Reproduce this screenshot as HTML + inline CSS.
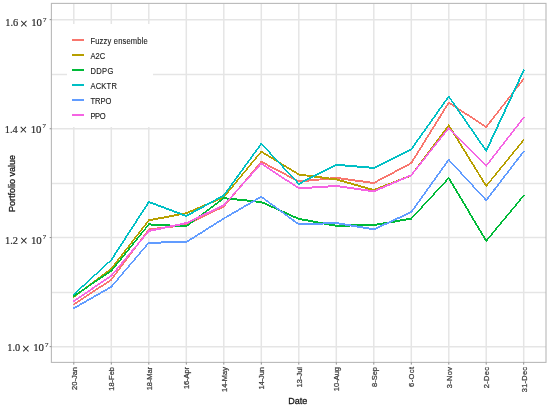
<!DOCTYPE html><html><head><meta charset="utf-8"><style>html,body{margin:0;padding:0;background:#fff;width:550px;height:410px;overflow:hidden}svg{display:block}</style></head><body>
<svg width="550" height="410" viewBox="0 0 550 410">
<rect x="0" y="0" width="550" height="410" fill="#fff"/>
<line x1="51.4" x2="546.0" y1="74.6" y2="74.6" stroke="#e5e5e5" stroke-width="1.5"/>
<line x1="51.4" x2="546.0" y1="183.5" y2="183.5" stroke="#e5e5e5" stroke-width="1.5"/>
<line x1="51.4" x2="546.0" y1="292.5" y2="292.5" stroke="#e5e5e5" stroke-width="1.5"/>
<line x1="51.4" x2="546.0" y1="19.65" y2="19.65" stroke="#e5e5e5" stroke-width="1.5"/>
<line x1="51.4" x2="546.0" y1="128.75" y2="128.75" stroke="#e5e5e5" stroke-width="1.5"/>
<line x1="51.4" x2="546.0" y1="237.55" y2="237.55" stroke="#e5e5e5" stroke-width="1.5"/>
<line x1="51.4" x2="546.0" y1="346.65" y2="346.65" stroke="#e5e5e5" stroke-width="1.5"/>
<line x1="73.8" x2="73.8" y1="3.4" y2="362.4" stroke="#e5e5e5" stroke-width="1.5"/>
<line x1="111.3" x2="111.3" y1="3.4" y2="362.4" stroke="#e5e5e5" stroke-width="1.5"/>
<line x1="148.8" x2="148.8" y1="3.4" y2="362.4" stroke="#e5e5e5" stroke-width="1.5"/>
<line x1="186.3" x2="186.3" y1="3.4" y2="362.4" stroke="#e5e5e5" stroke-width="1.5"/>
<line x1="223.8" x2="223.8" y1="3.4" y2="362.4" stroke="#e5e5e5" stroke-width="1.5"/>
<line x1="261.3" x2="261.3" y1="3.4" y2="362.4" stroke="#e5e5e5" stroke-width="1.5"/>
<line x1="298.8" x2="298.8" y1="3.4" y2="362.4" stroke="#e5e5e5" stroke-width="1.5"/>
<line x1="336.3" x2="336.3" y1="3.4" y2="362.4" stroke="#e5e5e5" stroke-width="1.5"/>
<line x1="373.8" x2="373.8" y1="3.4" y2="362.4" stroke="#e5e5e5" stroke-width="1.5"/>
<line x1="411.3" x2="411.3" y1="3.4" y2="362.4" stroke="#e5e5e5" stroke-width="1.5"/>
<line x1="448.8" x2="448.8" y1="3.4" y2="362.4" stroke="#e5e5e5" stroke-width="1.5"/>
<line x1="486.2" x2="486.2" y1="3.4" y2="362.4" stroke="#e5e5e5" stroke-width="1.5"/>
<line x1="523.7" x2="523.7" y1="3.4" y2="362.4" stroke="#e5e5e5" stroke-width="1.5"/>
<g stroke="#F8766D" stroke-linecap="round" shape-rendering="crispEdges"><line x1="73.85" y1="304.40" x2="111.34" y2="279.70" stroke-width="1.67"/><line x1="111.34" y1="279.70" x2="148.83" y2="229.50" stroke-width="1.60"/><line x1="148.83" y1="229.50" x2="186.32" y2="224.80" stroke-width="1.98"/><line x1="186.32" y1="224.80" x2="223.81" y2="206.40" stroke-width="1.80"/><line x1="223.81" y1="206.40" x2="261.30" y2="161.70" stroke-width="1.53"/><line x1="261.30" y1="161.70" x2="298.79" y2="181.50" stroke-width="1.77"/><line x1="298.79" y1="181.50" x2="336.28" y2="177.90" stroke-width="1.99"/><line x1="336.28" y1="177.90" x2="373.77" y2="183.00" stroke-width="1.98"/><line x1="373.77" y1="183.00" x2="411.26" y2="163.10" stroke-width="1.77"/><line x1="411.26" y1="163.10" x2="448.75" y2="102.60" stroke-width="1.70"/><line x1="448.75" y1="102.60" x2="486.24" y2="127.00" stroke-width="1.68"/><line x1="486.24" y1="127.00" x2="523.73" y2="78.90" stroke-width="1.58"/></g>
<g stroke="#B79F00" stroke-linecap="round" shape-rendering="crispEdges"><line x1="73.85" y1="297.00" x2="111.34" y2="268.70" stroke-width="1.60"/><line x1="111.34" y1="268.70" x2="148.83" y2="220.30" stroke-width="1.58"/><line x1="148.83" y1="220.30" x2="186.32" y2="213.20" stroke-width="1.97"/><line x1="186.32" y1="213.20" x2="223.81" y2="197.10" stroke-width="1.84"/><line x1="223.81" y1="197.10" x2="261.30" y2="151.60" stroke-width="1.54"/><line x1="261.30" y1="151.60" x2="298.79" y2="174.50" stroke-width="1.71"/><line x1="298.79" y1="174.50" x2="336.28" y2="179.40" stroke-width="1.98"/><line x1="336.28" y1="179.40" x2="373.77" y2="190.00" stroke-width="1.92"/><line x1="373.77" y1="190.00" x2="411.26" y2="175.50" stroke-width="1.87"/><line x1="411.26" y1="175.50" x2="448.75" y2="125.30" stroke-width="1.60"/><line x1="448.75" y1="125.30" x2="486.24" y2="186.00" stroke-width="1.70"/><line x1="486.24" y1="186.00" x2="523.73" y2="139.90" stroke-width="1.55"/></g>
<g stroke="#00BA38" stroke-linecap="round" shape-rendering="crispEdges"><line x1="73.85" y1="296.00" x2="111.34" y2="270.90" stroke-width="1.66"/><line x1="111.34" y1="270.90" x2="148.83" y2="224.40" stroke-width="1.56"/><line x1="148.83" y1="224.40" x2="186.32" y2="226.40" stroke-width="2.00"/><line x1="186.32" y1="226.40" x2="223.81" y2="198.20" stroke-width="1.60"/><line x1="223.81" y1="198.20" x2="261.30" y2="202.00" stroke-width="1.99"/><line x1="261.30" y1="202.00" x2="298.79" y2="218.90" stroke-width="1.82"/><line x1="298.79" y1="218.90" x2="336.28" y2="225.80" stroke-width="1.97"/><line x1="336.28" y1="225.80" x2="373.77" y2="225.00" stroke-width="2.00"/><line x1="373.77" y1="225.00" x2="411.26" y2="218.70" stroke-width="1.97"/><line x1="411.26" y1="218.70" x2="448.75" y2="178.00" stroke-width="1.47"/><line x1="448.75" y1="178.00" x2="486.24" y2="240.90" stroke-width="1.72"/><line x1="486.24" y1="240.90" x2="523.73" y2="195.60" stroke-width="1.54"/></g>
<g stroke="#00BFC4" stroke-linecap="round" shape-rendering="crispEdges"><line x1="73.85" y1="294.50" x2="111.34" y2="259.90" stroke-width="1.47"/><line x1="111.34" y1="259.90" x2="148.83" y2="202.00" stroke-width="1.68"/><line x1="148.83" y1="202.00" x2="186.32" y2="216.00" stroke-width="1.87"/><line x1="186.32" y1="216.00" x2="223.81" y2="195.40" stroke-width="1.75"/><line x1="223.81" y1="195.40" x2="261.30" y2="143.70" stroke-width="1.62"/><line x1="261.30" y1="143.70" x2="298.79" y2="183.90" stroke-width="1.46"/><line x1="298.79" y1="183.90" x2="336.28" y2="164.80" stroke-width="1.78"/><line x1="336.28" y1="164.80" x2="373.77" y2="167.90" stroke-width="1.99"/><line x1="373.77" y1="167.90" x2="411.26" y2="149.30" stroke-width="1.79"/><line x1="411.26" y1="149.30" x2="448.75" y2="96.50" stroke-width="1.63"/><line x1="448.75" y1="96.50" x2="486.24" y2="150.80" stroke-width="1.65"/><line x1="486.24" y1="150.80" x2="523.73" y2="70.40" stroke-width="1.81"/></g>
<g stroke="#619CFF" stroke-linecap="round" shape-rendering="crispEdges"><line x1="73.85" y1="308.30" x2="111.34" y2="286.80" stroke-width="1.73"/><line x1="111.34" y1="286.80" x2="148.83" y2="242.70" stroke-width="1.52"/><line x1="148.83" y1="242.70" x2="186.32" y2="242.10" stroke-width="2.00"/><line x1="186.32" y1="242.10" x2="223.81" y2="218.50" stroke-width="1.69"/><line x1="223.81" y1="218.50" x2="261.30" y2="196.70" stroke-width="1.73"/><line x1="261.30" y1="196.70" x2="298.79" y2="224.40" stroke-width="1.61"/><line x1="298.79" y1="224.40" x2="336.28" y2="223.00" stroke-width="2.00"/><line x1="336.28" y1="223.00" x2="373.77" y2="229.40" stroke-width="1.97"/><line x1="373.77" y1="229.40" x2="411.26" y2="212.10" stroke-width="1.82"/><line x1="411.26" y1="212.10" x2="448.75" y2="159.70" stroke-width="1.63"/><line x1="448.75" y1="159.70" x2="486.24" y2="200.30" stroke-width="1.47"/><line x1="486.24" y1="200.30" x2="523.73" y2="151.40" stroke-width="1.59"/></g>
<g stroke="#F564E3" stroke-linecap="round" shape-rendering="crispEdges"><line x1="73.85" y1="301.10" x2="111.34" y2="275.80" stroke-width="1.66"/><line x1="111.34" y1="275.80" x2="148.83" y2="231.00" stroke-width="1.53"/><line x1="148.83" y1="231.00" x2="186.32" y2="223.10" stroke-width="1.96"/><line x1="186.32" y1="223.10" x2="223.81" y2="205.30" stroke-width="1.81"/><line x1="223.81" y1="205.30" x2="261.30" y2="163.50" stroke-width="1.49"/><line x1="261.30" y1="163.50" x2="298.79" y2="188.30" stroke-width="1.67"/><line x1="298.79" y1="188.30" x2="336.28" y2="186.00" stroke-width="2.00"/><line x1="336.28" y1="186.00" x2="373.77" y2="191.30" stroke-width="1.98"/><line x1="373.77" y1="191.30" x2="411.26" y2="175.20" stroke-width="1.84"/><line x1="411.26" y1="175.20" x2="448.75" y2="128.00" stroke-width="1.57"/><line x1="448.75" y1="128.00" x2="486.24" y2="165.80" stroke-width="1.42"/><line x1="486.24" y1="165.80" x2="523.73" y2="117.60" stroke-width="1.58"/></g>
<rect x="67" y="24" width="86" height="103" fill="#fff"/>
<line x1="72" x2="84.4" y1="40.0" y2="40.0" stroke="#F8766D" stroke-width="2" shape-rendering="crispEdges"/>
<text transform="translate(90.4,44.00) scale(0.9,1)" textLength="63.78" lengthAdjust="spacing" font-family='"Liberation Sans", sans-serif' font-size="8.4" fill="#1a1a1a" stroke="#1a1a1a" stroke-width="0.12">Fuzzy ensemble</text>
<line x1="72" x2="84.4" y1="55.0" y2="55.0" stroke="#B79F00" stroke-width="2" shape-rendering="crispEdges"/>
<text transform="translate(90.4,59.00) scale(0.9,1)" textLength="16.48" lengthAdjust="spacing" font-family='"Liberation Sans", sans-serif' font-size="8.4" fill="#1a1a1a" stroke="#1a1a1a" stroke-width="0.12">A2C</text>
<line x1="72" x2="84.4" y1="70.0" y2="70.0" stroke="#00BA38" stroke-width="2" shape-rendering="crispEdges"/>
<text transform="translate(90.4,74.00) scale(0.9,1)" textLength="25.56" lengthAdjust="spacing" font-family='"Liberation Sans", sans-serif' font-size="8.4" fill="#1a1a1a" stroke="#1a1a1a" stroke-width="0.12">DDPG</text>
<line x1="72" x2="84.4" y1="84.8" y2="84.8" stroke="#00BFC4" stroke-width="2" shape-rendering="crispEdges"/>
<text transform="translate(90.4,88.80) scale(0.9,1)" textLength="29.44" lengthAdjust="spacing" font-family='"Liberation Sans", sans-serif' font-size="8.4" fill="#1a1a1a" stroke="#1a1a1a" stroke-width="0.12">ACKTR</text>
<line x1="72" x2="84.4" y1="100.0" y2="100.0" stroke="#619CFF" stroke-width="2" shape-rendering="crispEdges"/>
<text transform="translate(90.4,104.00) scale(0.9,1)" textLength="23.22" lengthAdjust="spacing" font-family='"Liberation Sans", sans-serif' font-size="8.4" fill="#1a1a1a" stroke="#1a1a1a" stroke-width="0.12">TRPO</text>
<line x1="72" x2="84.4" y1="114.8" y2="114.8" stroke="#F564E3" stroke-width="2" shape-rendering="crispEdges"/>
<text transform="translate(90.4,118.80) scale(0.9,1)" textLength="16.89" lengthAdjust="spacing" font-family='"Liberation Sans", sans-serif' font-size="8.4" fill="#1a1a1a" stroke="#1a1a1a" stroke-width="0.12">PPO</text>
<rect x="51.4" y="3.4" width="494.6" height="359.0" fill="none" stroke="#b9b9b9" stroke-width="1.1"/>
<line x1="49.6" x2="51.4" y1="19.65" y2="19.65" stroke="#8f8f8f" stroke-width="1"/>
<line x1="49.6" x2="51.4" y1="128.75" y2="128.75" stroke="#8f8f8f" stroke-width="1"/>
<line x1="49.6" x2="51.4" y1="237.55" y2="237.55" stroke="#8f8f8f" stroke-width="1"/>
<line x1="49.6" x2="51.4" y1="346.65" y2="346.65" stroke="#8f8f8f" stroke-width="1"/>
<line x1="73.8" x2="73.8" y1="362.4" y2="364.59999999999997" stroke="#8f8f8f" stroke-width="1"/>
<line x1="111.3" x2="111.3" y1="362.4" y2="364.59999999999997" stroke="#8f8f8f" stroke-width="1"/>
<line x1="148.8" x2="148.8" y1="362.4" y2="364.59999999999997" stroke="#8f8f8f" stroke-width="1"/>
<line x1="186.3" x2="186.3" y1="362.4" y2="364.59999999999997" stroke="#8f8f8f" stroke-width="1"/>
<line x1="223.8" x2="223.8" y1="362.4" y2="364.59999999999997" stroke="#8f8f8f" stroke-width="1"/>
<line x1="261.3" x2="261.3" y1="362.4" y2="364.59999999999997" stroke="#8f8f8f" stroke-width="1"/>
<line x1="298.8" x2="298.8" y1="362.4" y2="364.59999999999997" stroke="#8f8f8f" stroke-width="1"/>
<line x1="336.3" x2="336.3" y1="362.4" y2="364.59999999999997" stroke="#8f8f8f" stroke-width="1"/>
<line x1="373.8" x2="373.8" y1="362.4" y2="364.59999999999997" stroke="#8f8f8f" stroke-width="1"/>
<line x1="411.3" x2="411.3" y1="362.4" y2="364.59999999999997" stroke="#8f8f8f" stroke-width="1"/>
<line x1="448.8" x2="448.8" y1="362.4" y2="364.59999999999997" stroke="#8f8f8f" stroke-width="1"/>
<line x1="486.2" x2="486.2" y1="362.4" y2="364.59999999999997" stroke="#8f8f8f" stroke-width="1"/>
<line x1="523.7" x2="523.7" y1="362.4" y2="364.59999999999997" stroke="#8f8f8f" stroke-width="1"/>
<text transform="translate(5.23,26.0) scale(1.07,1)" font-size="9.7" font-family='"Liberation Serif", serif' fill="#2b2b2b" stroke="#2b2b2b" stroke-width="0.18">1.6</text>
<text x="19.60" y="26.60" font-size="10.4" font-family='"DejaVu Sans", sans-serif' fill="#262626">×</text>
<text transform="translate(31.13,26.0) scale(1.12,1)" font-size="9.7" font-family='"Liberation Serif", serif' fill="#2b2b2b" stroke="#2b2b2b" stroke-width="0.18">10</text>
<text x="43.00" y="21.60" font-size="6.9" font-family='"Liberation Serif", serif' fill="#2b2b2b" stroke="#2b2b2b" stroke-width="0.18">7</text>
<text transform="translate(4.73,132.6) scale(1.07,1)" font-size="9.7" font-family='"Liberation Serif", serif' fill="#2b2b2b" stroke="#2b2b2b" stroke-width="0.18">1.4</text>
<text x="19.10" y="133.20" font-size="10.4" font-family='"DejaVu Sans", sans-serif' fill="#262626">×</text>
<text transform="translate(30.63,132.6) scale(1.12,1)" font-size="9.7" font-family='"Liberation Serif", serif' fill="#2b2b2b" stroke="#2b2b2b" stroke-width="0.18">10</text>
<text x="42.50" y="128.20" font-size="6.9" font-family='"Liberation Serif", serif' fill="#2b2b2b" stroke="#2b2b2b" stroke-width="0.18">7</text>
<text transform="translate(5.03,243.5) scale(1.07,1)" font-size="9.7" font-family='"Liberation Serif", serif' fill="#2b2b2b" stroke="#2b2b2b" stroke-width="0.18">1.2</text>
<text x="19.40" y="244.10" font-size="10.4" font-family='"DejaVu Sans", sans-serif' fill="#262626">×</text>
<text transform="translate(30.93,243.5) scale(1.12,1)" font-size="9.7" font-family='"Liberation Serif", serif' fill="#2b2b2b" stroke="#2b2b2b" stroke-width="0.18">10</text>
<text x="42.80" y="239.10" font-size="6.9" font-family='"Liberation Serif", serif' fill="#2b2b2b" stroke="#2b2b2b" stroke-width="0.18">7</text>
<text transform="translate(7.23,351.0) scale(1.07,1)" font-size="9.7" font-family='"Liberation Serif", serif' fill="#2b2b2b" stroke="#2b2b2b" stroke-width="0.18">1.0</text>
<text x="21.60" y="351.60" font-size="10.4" font-family='"DejaVu Sans", sans-serif' fill="#262626">×</text>
<text transform="translate(33.13,351.0) scale(1.12,1)" font-size="9.7" font-family='"Liberation Serif", serif' fill="#2b2b2b" stroke="#2b2b2b" stroke-width="0.18">10</text>
<text x="45.00" y="346.60" font-size="6.9" font-family='"Liberation Serif", serif' fill="#2b2b2b" stroke="#2b2b2b" stroke-width="0.18">7</text>
<text transform="translate(76.9,367) rotate(-90)" textLength="22.94" lengthAdjust="spacing" text-anchor="end" font-family='"Liberation Sans", sans-serif' font-size="7.5" fill="#404040" stroke="#404040" stroke-width="0.25">20-Jan</text>
<text transform="translate(114.4,367) rotate(-90)" textLength="23.77" lengthAdjust="spacing" text-anchor="end" font-family='"Liberation Sans", sans-serif' font-size="7.5" fill="#404040" stroke="#404040" stroke-width="0.25">18-Feb</text>
<text transform="translate(151.9,367) rotate(-90)" textLength="23.27" lengthAdjust="spacing" text-anchor="end" font-family='"Liberation Sans", sans-serif' font-size="7.5" fill="#404040" stroke="#404040" stroke-width="0.25">18-Mar</text>
<text transform="translate(189.4,367) rotate(-90)" textLength="22.02" lengthAdjust="spacing" text-anchor="end" font-family='"Liberation Sans", sans-serif' font-size="7.5" fill="#404040" stroke="#404040" stroke-width="0.25">16-Apr</text>
<text transform="translate(226.9,367) rotate(-90)" textLength="25.02" lengthAdjust="spacing" text-anchor="end" font-family='"Liberation Sans", sans-serif' font-size="7.5" fill="#404040" stroke="#404040" stroke-width="0.25">14-May</text>
<text transform="translate(264.4,367) rotate(-90)" textLength="22.44" lengthAdjust="spacing" text-anchor="end" font-family='"Liberation Sans", sans-serif' font-size="7.5" fill="#404040" stroke="#404040" stroke-width="0.25">14-Jun</text>
<text transform="translate(301.9,367) rotate(-90)" textLength="20.44" lengthAdjust="spacing" text-anchor="end" font-family='"Liberation Sans", sans-serif' font-size="7.5" fill="#404040" stroke="#404040" stroke-width="0.25">13-Jul</text>
<text transform="translate(339.4,367) rotate(-90)" textLength="24.19" lengthAdjust="spacing" text-anchor="end" font-family='"Liberation Sans", sans-serif' font-size="7.5" fill="#404040" stroke="#404040" stroke-width="0.25">10-Aug</text>
<text transform="translate(376.9,367) rotate(-90)" textLength="20.02" lengthAdjust="spacing" text-anchor="end" font-family='"Liberation Sans", sans-serif' font-size="7.5" fill="#404040" stroke="#404040" stroke-width="0.25">8-Sep</text>
<text transform="translate(414.4,367) rotate(-90)" textLength="19.94" lengthAdjust="spacing" text-anchor="end" font-family='"Liberation Sans", sans-serif' font-size="7.5" fill="#404040" stroke="#404040" stroke-width="0.25">6-Oct</text>
<text transform="translate(451.9,367) rotate(-90)" textLength="21.22" lengthAdjust="spacing" text-anchor="end" font-family='"Liberation Sans", sans-serif' font-size="7.5" fill="#404040" stroke="#404040" stroke-width="0.25">3-Nov</text>
<text transform="translate(489.3,367) rotate(-90)" textLength="21.22" lengthAdjust="spacing" text-anchor="end" font-family='"Liberation Sans", sans-serif' font-size="7.5" fill="#404040" stroke="#404040" stroke-width="0.25">2-Dec</text>
<text transform="translate(526.8,367) rotate(-90)" textLength="25.19" lengthAdjust="spacing" text-anchor="end" font-family='"Liberation Sans", sans-serif' font-size="7.5" fill="#404040" stroke="#404040" stroke-width="0.25">31-Dec</text>
<text transform="translate(297.7,404.3) scale(0.95,1)" text-anchor="middle" font-family='"Liberation Sans", sans-serif' font-size="9.5" fill="#1a1a1a" stroke="#1a1a1a" stroke-width="0.3">Date</text>
<text transform="translate(14.9,183.5) rotate(-90) scale(0.95,1)" text-anchor="middle" font-family='"Liberation Sans", sans-serif' font-size="9.5" fill="#1a1a1a" stroke="#1a1a1a" stroke-width="0.3">Portfolio value</text>
</svg></body></html>
